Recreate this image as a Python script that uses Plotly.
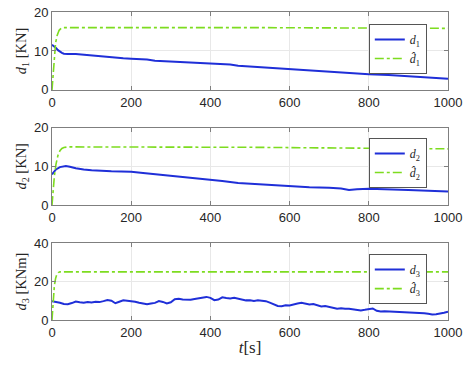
import plotly.graph_objects as go

# ---- data ----
d1_t = [0, 5, 10, 15, 20, 25, 30, 40, 60, 80, 100, 140, 180, 200, 240, 260, 280, 300, 350, 400,
        450, 470, 500, 550, 600, 650, 700, 750, 800, 850, 900, 950, 1000]
d1 = [11.6, 11.3, 10.8, 10.2, 9.8, 9.5, 9.3, 9.2, 9.2, 9.0, 8.8, 8.5, 8.1, 8.0, 7.8, 7.5, 7.4, 7.2,
      7.0, 6.7, 6.5, 6.2, 6.0, 5.6, 5.2, 4.9, 4.6, 4.3, 4.0, 3.8, 3.5, 3.2, 2.9]
d1hat_t = [0, 3, 6, 9, 13, 18, 23, 28, 500, 1000]
d1hat = [0, 5, 9, 12, 14, 15.3, 15.8, 16, 16, 15.8]

d2_t = [0, 5, 10, 20, 30, 35, 45, 60, 80, 100, 150, 200, 230, 260, 300, 350, 400, 430, 470, 500,
        550, 600, 650, 700, 730, 750, 770, 800, 850, 900, 950, 1000]
d2 = [7.9, 8.6, 9.2, 9.8, 10.1, 10.1, 9.9, 9.5, 9.2, 9.0, 8.7, 8.6, 8.3, 8.0, 7.5, 7.1, 6.6, 6.2,
      5.7, 5.5, 5.2, 4.9, 4.6, 4.5, 4.3, 3.9, 4.1, 4.2, 4.1, 3.9, 3.7, 3.5]
d2hat_t = [0, 3, 6, 10, 15, 20, 25, 30, 40, 500, 800, 1000]
d2hat = [0, 4, 7.5, 10.5, 12.8, 14, 14.6, 14.85, 15, 14.9, 14.7, 14.5]

d3_t = list(range(0, 1001, 10))
d3 = [9.7, 9.5, 9.0, 8.3, 8.2, 8.8, 9.6, 9.2, 9.0, 9.4,
      9.1, 9.5, 9.3, 9.8, 10.4, 10.0, 8.7, 9.5, 10.2, 10.0,
      9.8, 9.5, 9.0, 8.4, 8.2, 8.6, 8.9, 9.8, 9.4, 8.6,
      9.2, 10.8, 11.0, 10.6, 10.4, 10.5, 10.9, 11.2, 11.6, 12.0,
      11.5, 10.3, 10.6, 11.8, 11.4, 11.2, 11.5, 11.0, 10.6, 10.2,
      10.3, 9.9, 10.2, 10.0, 9.8, 9.0, 8.2, 7.3, 7.1, 7.6,
      7.5, 8.2, 8.6, 8.9, 8.6, 8.0, 8.3, 7.7, 7.0, 7.3,
      6.7, 6.2, 5.9, 6.1, 5.8, 5.9, 5.6, 5.4, 5.0, 5.3,
      5.6, 6.0, 4.8, 4.4, 4.6, 4.5, 4.3, 4.4, 4.2, 4.0,
      4.2, 3.9, 3.7, 3.8, 3.5, 3.2, 2.9, 3.0, 3.3, 3.8, 4.3]
d3hat_t = [0, 2, 4, 6, 9, 12, 16, 20, 1000]
d3hat = [0, 8, 14, 18, 21.5, 23.5, 24.6, 25, 25]

x_ticks = [0, 200, 400, 600, 800, 1000]

# ---- style ----
BLUE = "#1f2fd8"
GREEN = "#7ddc1f"
SERIF = "Liberation Serif, DejaVu Serif, serif"
SANS = "Liberation Sans, Arial, sans-serif"

fig = go.Figure()

panels = [
    (d1_t, d1, d1hat_t, d1hat, "1", "", "legend"),
    (d2_t, d2, d2hat_t, d2hat, "2", "2", "legend2"),
    (d3_t, d3, d3hat_t, d3hat, "3", "3", "legend3"),
]
for (tb, yb, tg, yg, idx, ax, leg) in panels:
    fig.add_trace(go.Scatter(x=tb, y=yb, mode="lines", line=dict(color=BLUE, width=2),
                             name=f"<i>d</i><sub>{idx}</sub>",
                             xaxis="x" + ax, yaxis="y" + ax, legend=leg))
    fig.add_trace(go.Scatter(x=tg, y=yg, mode="lines", line=dict(color=GREEN, width=1.6, dash="dashdot"),
                             name=f"<i>d\u0302</i><sub>{idx}</sub>",
                             xaxis="x" + ax, yaxis="y" + ax, legend=leg))

axis_common = dict(showline=True, linecolor="#7f7f7f", linewidth=1, mirror="ticks",
                   ticks="inside", ticklen=4, tickcolor="#7f7f7f", automargin=False,
                   showgrid=True, gridcolor="#e8e8e8", gridwidth=1, zeroline=False,
                   tickfont=dict(family=SANS, size=13, color="#262626"))

domains = [[0.747, 1.0], [0.373, 0.625], [0.0, 0.25]]
ytitles = ["<i>d</i><sub>1</sub> [KN]", "<i>d</i><sub>2</sub> [KN]", "<i>d</i><sub>3</sub> [KNm]"]
yranges = [[0, 20], [0, 20], [0, 40]]
yticks = [[0, 10, 20], [0, 10, 20], [0, 20, 40]]

layout = dict(width=474, height=372, margin=dict(l=52, r=26, t=12, b=52, autoexpand=False),
              paper_bgcolor="white", plot_bgcolor="white", showlegend=True)
for i, suf in enumerate(["", "2", "3"]):
    xa = dict(axis_common, range=[0, 1000], tickvals=x_ticks, domain=[0, 1],
              anchor="y" + suf)
    if suf == "3":
        xa["title"] = dict(text="<i>t</i>[s]", font=dict(family=SERIF, size=17, color="#262626"),
                           standoff=2)
    ya = dict(axis_common, range=yranges[i], tickvals=yticks[i], domain=domains[i],
              anchor="x" + suf,
              title=dict(text=ytitles[i], font=dict(family=SERIF, size=14.5, color="#262626"),
                         standoff=3))
    layout["xaxis" + suf] = xa
    layout["yaxis" + suf] = ya

legend_common = dict(xref="paper", yref="paper", xanchor="left", yanchor="top",
                     bgcolor="white", bordercolor="#555555", borderwidth=1,
                     font=dict(family=SERIF, size=12, color="#262626"),
                     tracegroupgap=0, itemwidth=30)
layout["legend"] = dict(legend_common, x=0.8, y=0.961)
layout["legend2"] = dict(legend_common, x=0.8, y=0.591)
layout["legend3"] = dict(legend_common, x=0.8, y=0.214)

fig.update_layout(**layout)
fig.write_html("out.html", config={"displayModeBar": False},
               post_script="document.body.style.margin='0';")
